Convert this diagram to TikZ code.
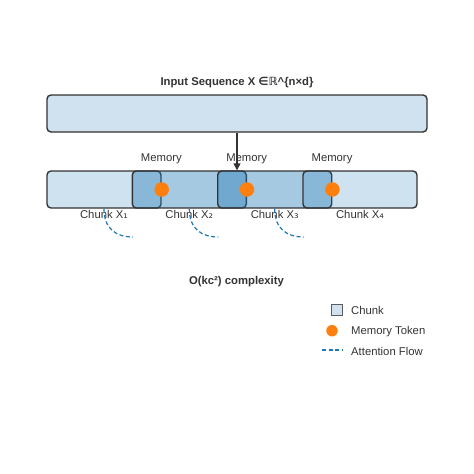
\documentclass[tikz,border=0pt]{standalone}
\usepackage{fontspec}
\setmainfont{Liberation Sans}
\newfontfamily\dejavu{DejaVu Sans}
\usetikzlibrary{arrows.meta}
\definecolor{edge}{HTML}{333333}
\definecolor{chunkblue}{HTML}{1F77B4}
\definecolor{lightfill}{HTML}{D0E2F0}
\definecolor{memorange}{HTML}{FF7F0E}
\definecolor{txt}{HTML}{333333}
\begin{document}
\begin{tikzpicture}[x=1pt,y=-1pt,
  lbl/.style={font=\fontsize{11.3}{13}\selectfont, text=txt, inner sep=0pt},
  boldlbl/.style={font=\fontsize{11.3}{13}\selectfont\bfseries, text=txt, inner sep=0pt},
  chunkbox/.style={draw=edge, line width=1.4pt, rounded corners=4pt, fill=chunkblue,
    minimum width=114pt, minimum height=37pt, inner sep=0pt},
  inbox/.style={draw=edge, line width=1.4pt, rounded corners=4pt, fill=lightfill,
    minimum width=380pt, minimum height=37pt, inner sep=0pt},
  memdot/.style={circle, fill=memorange, minimum size=14.5pt, inner sep=0pt},
  flow/.style={draw=chunkblue, line width=1.2pt, dash pattern=on 4pt off 2.5pt},
  arrowline/.style={draw=edge, line width=1.4pt, -{Triangle[length=7pt,width=7pt]}},
  legsq/.style={draw=edge!80, line width=0.9pt, fill=lightfill, minimum size=11pt, inner sep=0pt}
]
\useasboundingbox (0,0) rectangle (474,474);

% title
\node[boldlbl] (title) at (237,83) {Input Sequence X {\dejavu ∈ℝ}\textasciicircum\{n×d\}};
\node[inbox] (input) at (237,113.5) {};

% chunks
\node[chunkbox, fill opacity=0.215] (c1) at (104,189.5) {};
\node[chunkbox, fill opacity=0.4] (c2) at (189.3,189.5) {};
\node[chunkbox, fill opacity=0.4] (c3) at (274.7,189.5) {};
\node[chunkbox, fill opacity=0.215] (c4) at (360,189.5) {};

% memory tokens
\node[memdot] (m1) at (c1.east) {};
\node[memdot] (m2) at (c2.east) {};
\node[memdot] (m3) at (c3.east) {};

\node[lbl] (ml1) at (161.3,159) {Memory};
\node[lbl] (ml2) at (246.7,159) {Memory};
\node[lbl] (ml3) at (332,159) {Memory};

% chunk labels
\node[lbl] (cl1) at (104,214) {Chunk X{\dejavu ₁}};
\node[lbl] (cl2) at (189.3,214) {Chunk X{\dejavu ₂}};
\node[lbl] (cl3) at (274.7,214) {Chunk X{\dejavu ₃}};
\node[lbl] (cl4) at (360,214) {Chunk X{\dejavu ₄}};

% attention flow curves
\coordinate (f1) at (133,237);
\coordinate (f2) at (218.3,237);
\coordinate (f3) at (303.7,237);
\draw[flow] (c1.south) .. controls +(0,20) and +(-17,0) .. (f1);
\draw[flow] (c2.south) .. controls +(0,20) and +(-17,0) .. (f2);
\draw[flow] (c3.south) .. controls +(0,20) and +(-17,0) .. (f3);

% arrow
\draw[arrowline] (input.south) -- (input.south |- c3.north);

% complexity
\node[boldlbl] (cx) at (236.5,282) {O(kc²) complexity};

% legend
\node[legsq] (lg1) at (336.5,309.5) {};
\node[lbl, anchor=west] (lt1) at (351,310) {Chunk};
\node[memdot, minimum size=11.5pt] (lg2) at (332,330.7) {};
\node[lbl, anchor=west] (lt2) at (351,331.5) {Memory Token};
\coordinate (lg3a) at (322,350);
\coordinate (lg3b) at (342,350);
\draw[flow] (lg3a) -- (lg3b);
\node[lbl, anchor=west] (lt3) at (351,351) {Attention Flow};
\end{tikzpicture}
\end{document}
